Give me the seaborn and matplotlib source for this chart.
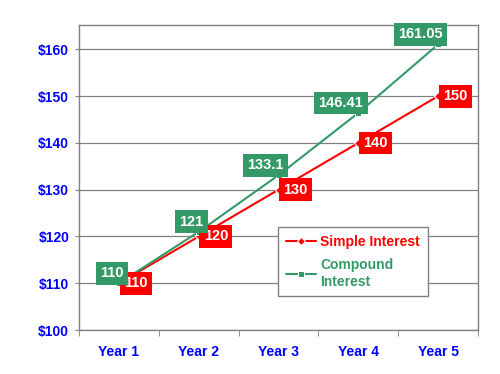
import matplotlib
matplotlib.use("Agg")
import matplotlib.pyplot as plt
import seaborn as sns
import pandas as pd
import numpy as np

years = ["Year 1", "Year 2", "Year 3", "Year 4", "Year 5"]
simple = [110, 120, 130, 140, 150]
compound = [110, 121, 133.1, 146.41, 161.05]
simple_labels = ["110", "120", "130", "140", "150"]
compound_labels = ["110", "121", "133.1", "146.41", "161.05"]
yticks = [100, 110, 120, 130, 140, 150, 160]

RED = "#FF0000"
GREEN = "#339966"
BLUE = "#0000FF"

sns.set_style("white")
plt.rcParams["font.family"] = ["Liberation Sans", "DejaVu Sans"]

df = pd.DataFrame({
    "Year": years * 2,
    "Value": simple + compound,
    "Series": ["Simple Interest"] * 5 + ["Compound\nInterest"] * 5,
})

fig = plt.figure(figsize=(5, 3.74), dpi=100)
ax = fig.add_axes([0.158, 0.1176, 0.798, 0.8154])

sns.lineplot(data=df, x="Year", y="Value", hue="Series", style="Series",
             palette={"Simple Interest": RED, "Compound\nInterest": GREEN},
             markers={"Simple Interest": "D", "Compound\nInterest": "s"},
             dashes=False, markersize=4.5, linewidth=1.5, ax=ax, sort=False)

ax.set_xlim(-0.5, 4.5)
ax.set_ylim(100, 165.2)
ax.set_yticks(yticks)
ax.set_yticklabels([f"${v}" for v in yticks])
ax.set_xticks(range(5))
ax.set_xticklabels(years)
ax.set_xticks(np.arange(-0.5, 5.0, 1.0), minor=True)
ax.tick_params(axis="x", which="major", length=0, pad=11)
ax.tick_params(axis="x", which="minor", length=4, color="#808080", direction="out", bottom=True)
ax.tick_params(axis="y", length=3, color="#808080", direction="out", left=True, pad=4)
for lab in ax.get_xticklabels() + ax.get_yticklabels():
    lab.set_color(BLUE)
    lab.set_fontweight("bold")
    lab.set_fontsize(10)
ax.set_xlabel("")
ax.set_ylabel("")
ax.grid(axis="y", color="#808080", linewidth=0.9)
ax.set_axisbelow(True)
for s in ax.spines.values():
    s.set_visible(True)
    s.set_color("#808080")
    s.set_linewidth(1)

for i, (v, t) in enumerate(zip(simple, simple_labels)):
    ax.annotate(t, (i, v), xytext=(5, 0), textcoords="offset pixels",
                ha="left", va="center", color="white", fontweight="bold", fontsize=10.5,
                bbox=dict(boxstyle="square,pad=0.3", fc=RED, ec="none"), zorder=5)
for i, (v, t) in enumerate(zip(compound, compound_labels)):
    ax.annotate(t, (i, v), xytext=(5, 10), textcoords="offset pixels",
                ha="right", va="center", color="white", fontweight="bold", fontsize=10.5,
                bbox=dict(boxstyle="square,pad=0.3", fc=GREEN, ec="none"), zorder=5)

leg = ax.legend(loc="upper left", bbox_to_anchor=(0.4987, 0.3377), frameon=True,
                fancybox=False, framealpha=1, edgecolor="#808080",
                prop={"weight": "bold", "size": 10}, handlelength=2.2,
                handletextpad=0.3, labelspacing=0.7, borderpad=0.55,
                borderaxespad=0)
leg.get_frame().set_linewidth(1)
for txt, col in zip(leg.get_texts(), [RED, GREEN]):
    txt.set_color(col)

fig.savefig("out.png", dpi=100)
